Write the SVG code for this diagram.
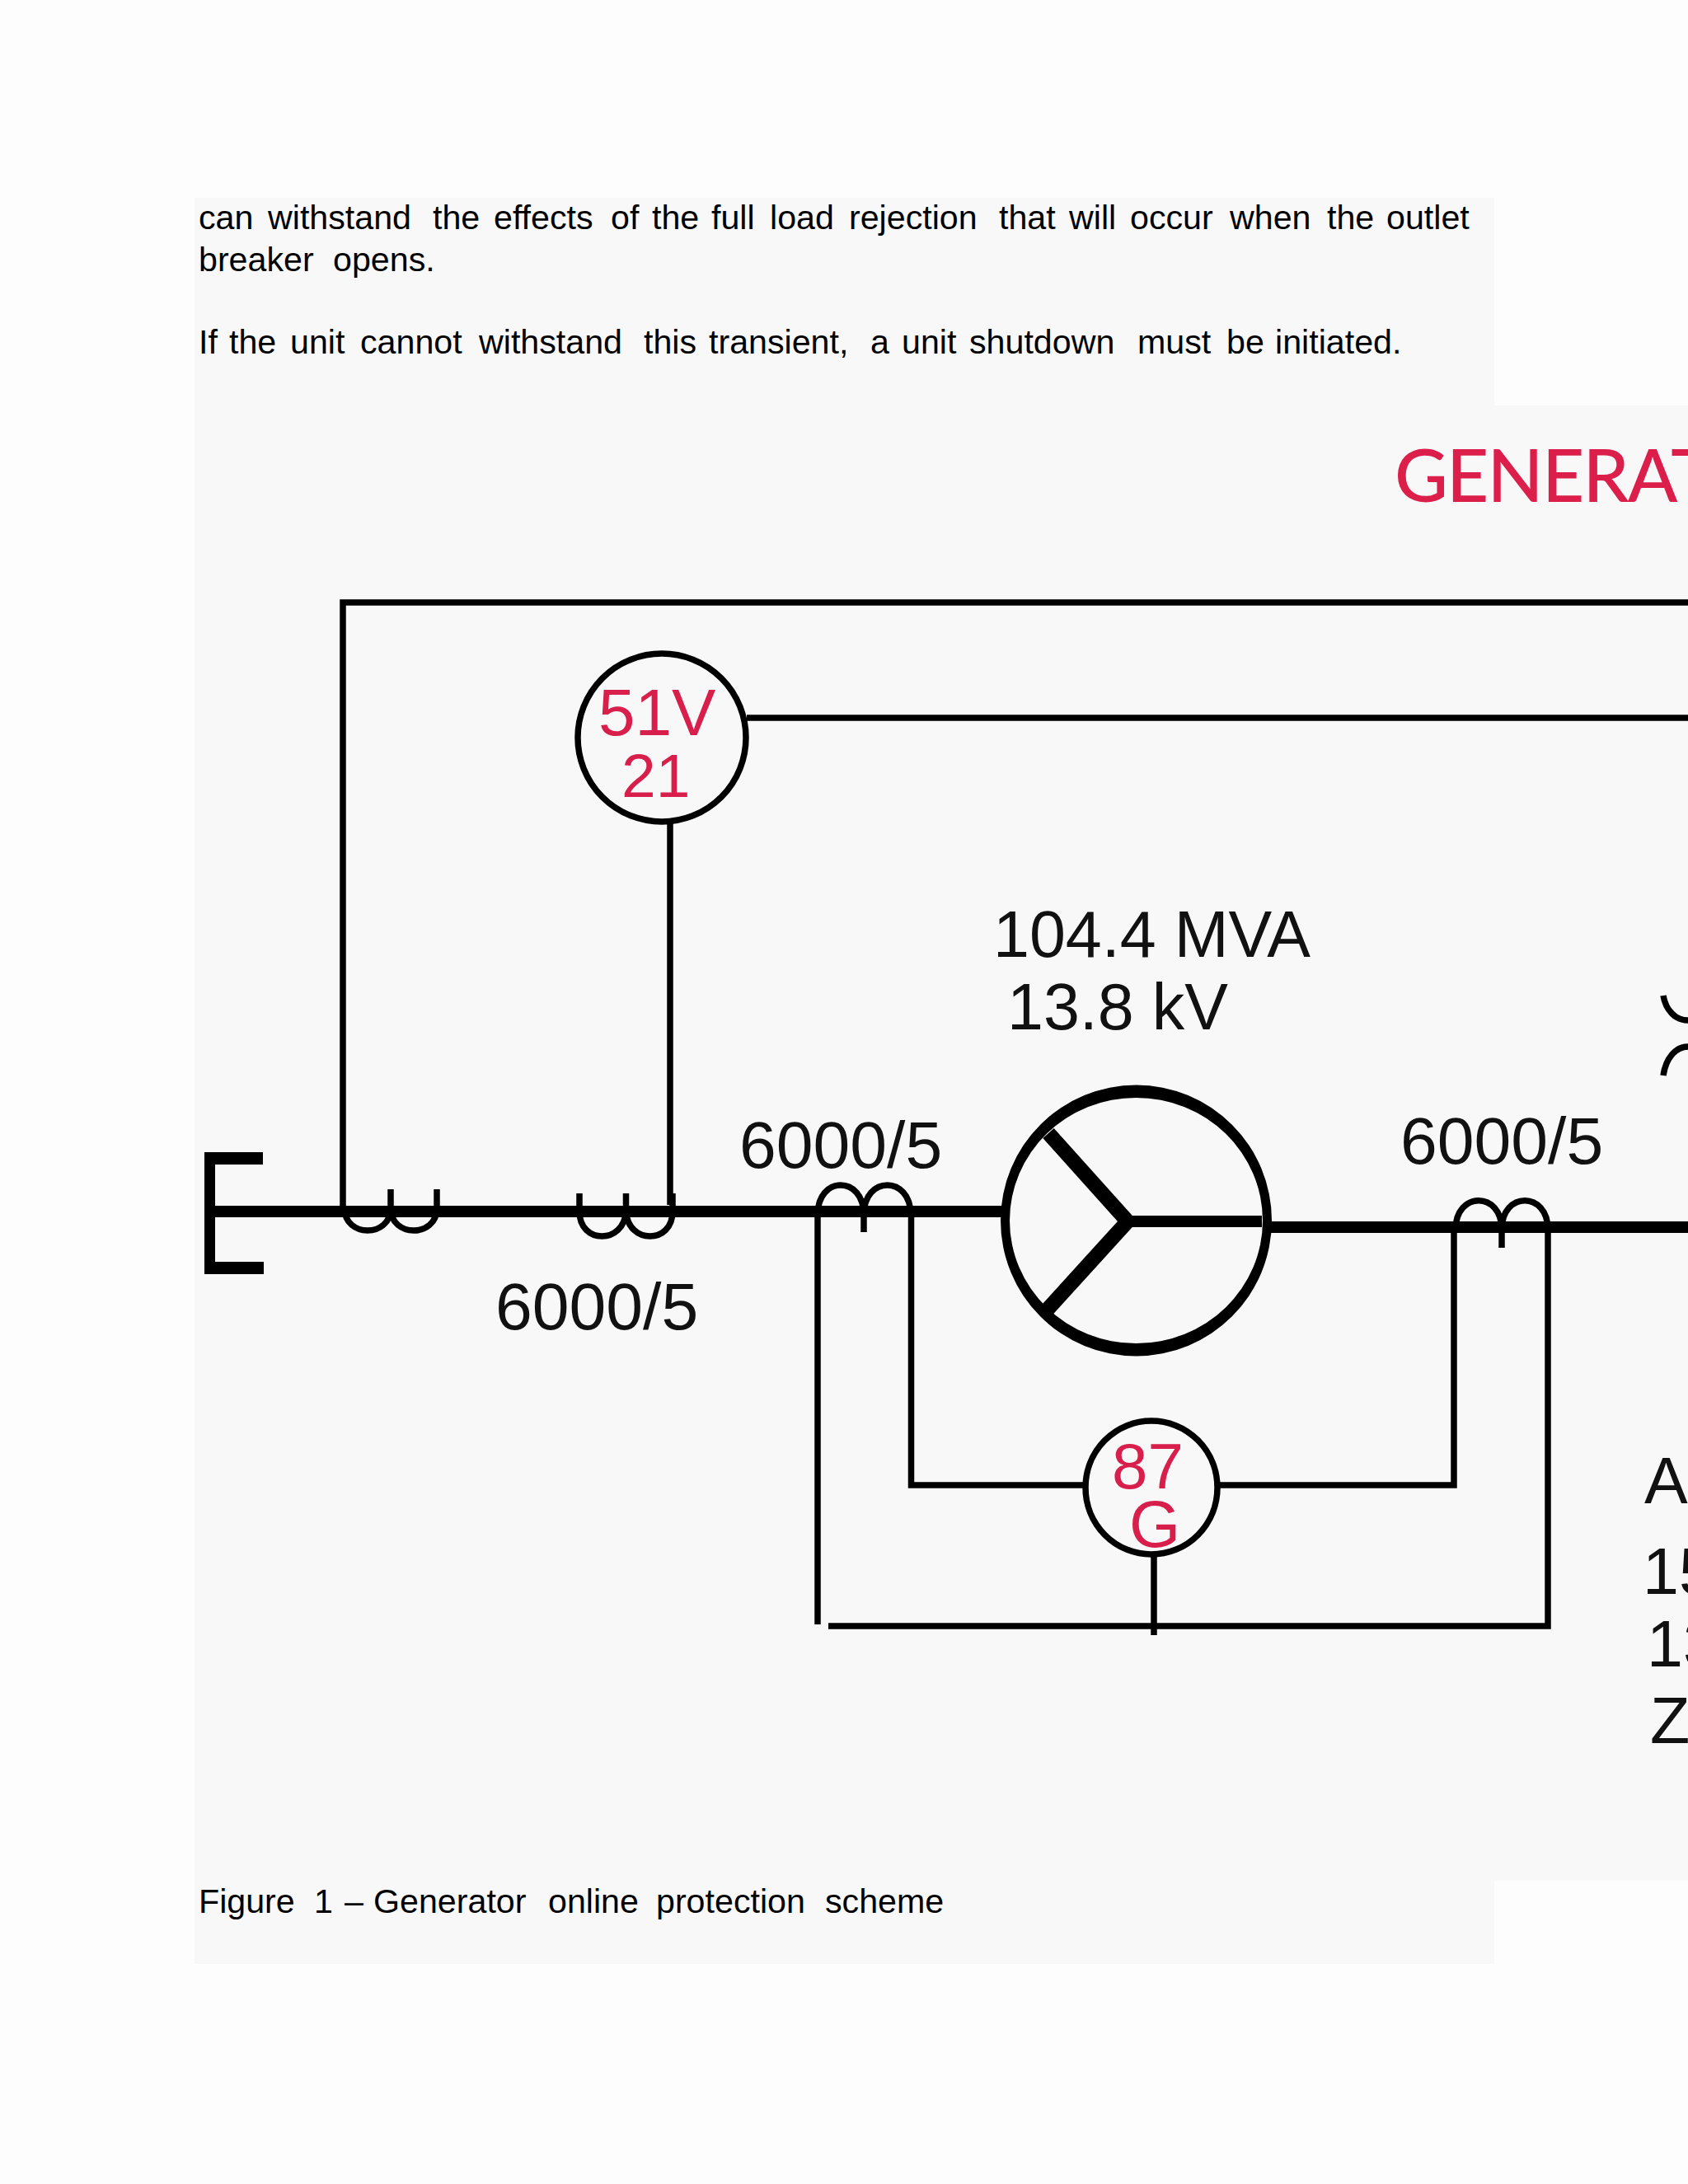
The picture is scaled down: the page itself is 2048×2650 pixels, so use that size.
<svg xmlns="http://www.w3.org/2000/svg" width="2048" height="2650" viewBox="0 0 2048 2650">
<style>
.body{font-family:"Liberation Sans",Arial,sans-serif;font-size:41.2px;fill:#000}
.lab{font-family:"Liberation Sans",Arial,sans-serif;font-size:79px;fill:#111}
.ct{font-size:80.5px}
.red{font-family:"Liberation Sans",Arial,sans-serif;font-size:78px;fill:#d81e4a}
.w{fill:none;stroke:#000;stroke-width:7.500;stroke-linecap:butt;stroke-linejoin:miter}
.bus{fill:none;stroke:#000;stroke-width:14}
</style>
<rect width="2048" height="2650" fill="#fdfdfd"/>
<rect x="236" y="240" width="1577" height="252" fill="#f8f8f9"/>
<rect x="236" y="492" width="1812" height="1790" fill="#f8f8f9"/>
<rect x="236" y="2282" width="1577" height="101" fill="#f9f8f9"/>
<g id="page-text">
<text class="body" y="278"><tspan x="241">can</tspan><tspan x="325">withstand</tspan><tspan x="525">the</tspan><tspan x="599">effects</tspan><tspan x="741">of</tspan><tspan x="791">the</tspan><tspan x="863">full</tspan><tspan x="934">load</tspan><tspan x="1030">rejection</tspan><tspan x="1212">that</tspan><tspan x="1297">will</tspan><tspan x="1371">occur</tspan><tspan x="1492">when</tspan><tspan x="1610">the</tspan><tspan x="1682">outlet</tspan></text>
<text class="body" y="329"><tspan x="241">breaker</tspan><tspan x="404">opens.</tspan></text>
<text class="body" y="429"><tspan x="241">If</tspan><tspan x="278">the</tspan><tspan x="352">unit</tspan><tspan x="437">cannot</tspan><tspan x="581">withstand</tspan><tspan x="781">this</tspan><tspan x="860">transient,</tspan><tspan x="1056">a</tspan><tspan x="1094">unit</tspan><tspan x="1176">shutdown</tspan><tspan x="1380">must</tspan><tspan x="1488">be</tspan><tspan x="1547">initiated.</tspan></text>
<text class="body" y="2321"><tspan x="241">Figure</tspan><tspan x="381">1</tspan><tspan x="418">–</tspan><tspan x="453">Generator</tspan><tspan x="665">online</tspan><tspan x="796">protection</tspan><tspan x="1001">scheme</tspan></text>
</g>
<text id="title" y="609" font-family="Lato,'Open Sans',sans-serif" font-weight="500" font-size="89" fill="#dc1e4a" textLength="388" lengthAdjust="spacing" x="1692">GENERAT</text>
<g id="connectors">
<path class="w" d="M416 1466V731H2048"/>
<path class="w" d="M906 871H2048"/>
<path class="w" d="M813 998V1462"/>
<path class="w" d="M1105.500 1470V1802H1316"/>
<path class="w" d="M1480 1802H1764V1489"/>
<path class="w" d="M992 1470V1971"/>
<path class="w" d="M1878 1489V1973H1005"/>
<path class="w" d="M1400 1887V1984"/>
<path class="bus" d="M261 1470H1218"/>
<path class="bus" d="M1535 1489H2048"/>
</g>
<g id="ct-1"><path class="w" d="M418 1466C418 1502 474 1502 474 1466V1443M474 1466C474 1502 530 1502 530 1466V1443"/></g>
<g id="ct-2"><path class="w" d="M703 1448V1470C703 1510 757 1510 759.500 1470V1448M759.500 1470C762 1510 816 1510 816 1470V1448"/></g>
<g id="ct-3"><path class="w" d="M992 1474C992 1426 1048 1426 1048 1474V1495M1048 1474C1048 1426 1105 1426 1105 1474"/></g>
<g id="ct-4"><path class="w" d="M1766 1492C1766 1445 1822 1445 1822 1492V1514M1822 1492C1822 1445 1878 1445 1878 1492"/></g>
<g id="ct-5"><path class="w" d="M2018 1208C2021 1226 2033 1238 2048 1238M2018 1305C2021 1284 2033 1270 2048 1270"/></g>
<g id="ground"><path fill="#000" d="M248 1398H319V1413H261V1531H320V1546H248Z"/></g>
<g id="generator">
<path fill="#000" fill-rule="evenodd" d="M1214 1481A164.500 164.500 0 1 0 1543 1481A164.500 164.500 0 1 0 1214 1481ZM1225 1481A153.500 149 0 1 1 1532 1481A153.500 149 0 1 1 1225 1481Z"/>
<path fill="none" stroke="#000" stroke-width="18" d="M1272 1375L1368 1482L1268 1592"/>
<path class="bus" d="M1368 1482H1531"/>
<text class="lab" x="1205" y="1161">104.4 MVA</text>
<text class="lab" x="1222" y="1249">13.8 kV</text>
</g>
<g id="relay-51v-21">
<circle class="w" cx="803" cy="895" r="102"/>
<text class="red" x="726" y="892" style="font-size:80px">51V</text>
<text class="red" x="754" y="967" style="font-size:75px">21</text>
</g>
<g id="relay-87g">
<ellipse class="w" cx="1397" cy="1805" rx="80" ry="81"/>
<text class="red" x="1349" y="1806">87</text>
<text class="red" x="1370" y="1877" style="font-size:80px">G</text>
</g>
<g id="labels">
<text class="lab ct" x="897" y="1417">6000/5</text>
<text class="lab ct" x="601" y="1613">6000/5</text>
<text class="lab ct" x="1699" y="1412">6000/5</text>
<text class="lab" x="1995" y="1824">A</text>
<text class="lab" x="1993" y="1934">15</text>
<text class="lab" x="1998" y="2022">13</text>
<text class="lab" x="2002" y="2115">Z</text>
</g>
</svg>
